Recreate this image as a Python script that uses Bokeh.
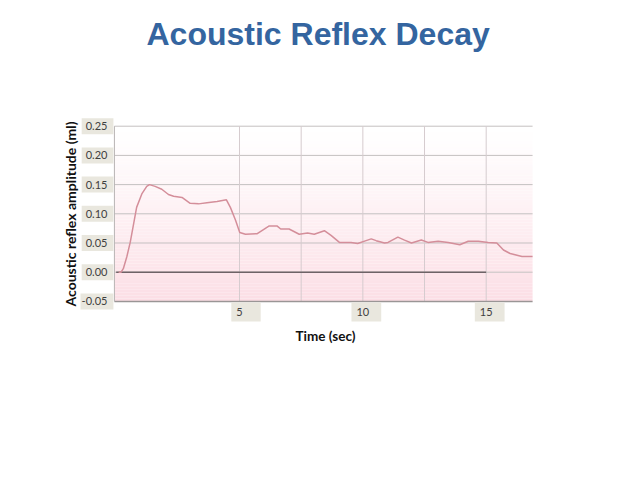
import numpy as np
from bokeh.plotting import figure
from bokeh.models import FixedTicker, Label, Range1d, Title
from bokeh.embed import file_html
from bokeh.resources import INLINE

# ---- data ----
time_s = [0.1, 0.2, 0.29, 0.43, 0.57, 0.71, 0.83, 1.04, 1.24, 1.35, 1.58, 1.85,
          2.12, 2.33, 2.67, 3.0, 3.34, 3.68, 4.09, 4.47, 4.63, 4.84, 5.01, 5.24,
          5.72, 6.19, 6.53, 6.67, 7.01, 7.42, 7.76, 8.03, 8.44, 8.71, 9.05, 9.52,
          9.79, 10.13, 10.34, 10.54, 10.88, 11.02, 11.42, 11.69, 11.97, 12.37,
          12.64, 13.05, 13.46, 13.93, 14.27, 14.68, 15.08, 15.43, 15.70, 15.97,
          16.45, 16.88]
amplitude = [0.0, 0.0, 0.006, 0.026, 0.051, 0.083, 0.111, 0.134, 0.147, 0.150,
             0.147, 0.142, 0.133, 0.130, 0.128, 0.118, 0.117, 0.119, 0.121, 0.124,
             0.111, 0.089, 0.068, 0.065, 0.066, 0.079, 0.079, 0.074, 0.074, 0.065,
             0.067, 0.065, 0.071, 0.063, 0.051, 0.051, 0.049, 0.054, 0.057, 0.054,
             0.050, 0.051, 0.060, 0.055, 0.050, 0.055, 0.051, 0.053, 0.051, 0.047,
             0.053, 0.053, 0.051, 0.050, 0.038, 0.032, 0.027, 0.027]
baseline_time = [0.0, 15.0]
baseline_amp = [0.0, 0.0]

y_ticks = [-0.05, 0.0, 0.05, 0.10, 0.15, 0.20, 0.25]
y_tick_labels = ["-0.05", "0.00", "0.05", "0.10", "0.15", "0.20", "0.25"]
x_ticks = [5, 10, 15]
x_tick_labels = ["5", "10", "15"]
x_grid = [5, 7.5, 10, 12.5, 15]

# visible chart area
X0, X1 = -0.07, 16.88
Y0, Y1 = -0.05, 0.25
# frame extent (room for the boxed tick labels)
FX0, FX1 = -1.445, 18.417
FY0, FY1 = -0.093, 0.2923

p = figure(width=620, height=460, output_backend="svg", toolbar_location=None,
           x_range=Range1d(FX0, FX1), y_range=Range1d(FY0, FY1),
           min_border=0, min_border_left=80, min_border_right=50,
           min_border_bottom=134, min_border_top=101)
p.outline_line_color = None
p.background_fill_color = "white"
p.border_fill_color = "white"
p.grid.visible = False
p.title.text = ""

# spacer (nearest the frame), then the title above it
p.add_layout(Title(text=" ", text_font_size="10px", standoff=21), "above")
p.add_layout(Title(text="Acoustic Reflex Decay", text_font="Liberation Sans",
                   text_font_style="bold", text_font_size="32px",
                   text_color="#3465a0", align="left", offset=66,
                   vertical_align="top", standoff=27), "above")

# background gradient (white at top -> pink at bottom)
n = 60
edges = np.linspace(Y0, Y1, n + 1)
mids = (edges[:-1] + edges[1:]) / 2
top_c = np.array([255, 255, 255])
bot_c = np.array([252, 222, 229])
cols = []
for m in mids:
    t = ((Y1 - m) / (Y1 - Y0)) ** 1.2
    c = top_c + (bot_c - top_c) * t
    cols.append("#%02x%02x%02x" % tuple(int(round(v)) for v in c))
p.quad(left=X0, right=X1, bottom=edges[:-1], top=edges[1:], fill_color=cols,
       line_color=None, level="image")

# grid lines (drawn within the chart area only)
p.segment(x0=X0, x1=X1, y0=y_ticks[1:], y1=y_ticks[1:], line_color="#c4c0c0",
          line_width=1)
p.segment(x0=x_grid, x1=x_grid, y0=Y0, y1=Y1, line_color="#d6cccf", line_width=1)
p.segment(x0=[X0], x1=[X0], y0=Y0, y1=Y1, line_color="#b8b4b4", line_width=1)
p.segment(x0=[X0], x1=[X1], y0=Y0, y1=Y0, line_color="#9a9696", line_width=1.5)

# axes: only their titles are shown
for ax in (p.xaxis, p.yaxis):
    ax.major_tick_line_color = None
    ax.minor_tick_line_color = None
    ax.major_tick_out = 0
    ax.major_label_standoff = 0
    ax.axis_line_color = None
    ax.axis_label_text_font = "Lato"
    ax.axis_label_text_font_style = "bold"
    ax.axis_label_text_color = "#111111"
p.yaxis.ticker = FixedTicker(ticks=y_ticks)
p.xaxis.ticker = FixedTicker(ticks=x_ticks)
p.yaxis.major_label_overrides = {v: "" for v in y_ticks}
p.xaxis.major_label_overrides = {v: "" for v in x_ticks}
p.yaxis.axis_label = "Acoustic reflex amplitude (ml)"
p.xaxis.axis_label = "Time (sec)"
p.yaxis.axis_label_text_font_size = "14px"
p.xaxis.axis_label_text_font_size = "13.5px"
p.yaxis.axis_label_standoff = 2
p.xaxis.axis_label_standoff = 1

# tick labels with boxed backgrounds
for v, s in zip(y_ticks, y_tick_labels):
    p.add_layout(Label(x=X0, y=v, text=s, text_align="right", text_baseline="middle",
                       x_offset=-1, text_font="Lato", text_font_size="11px",
                       text_color="#404040", background_fill_color="#e9e7de",
                       padding=dict(left=4, right=6, top=4, bottom=4)))
for v, s in zip(x_ticks, x_tick_labels):
    rpad = 24 - 6 * len(s)
    p.add_layout(Label(x=v, y=Y0, text=s, text_align="center", text_baseline="top",
                       x_offset=(rpad - 5) / 2, y_offset=-1, text_font="Lato",
                       text_font_size="11px", text_color="#404040",
                       background_fill_color="#e9e7de",
                       padding=dict(left=5, right=rpad, top=6, bottom=5)))

# baseline and curve
p.line(baseline_time, baseline_amp, line_color="#6e6266", line_width=1.6)
p.line(time_s, amplitude, line_color="#d48e9a", line_width=1.5)

open("out.html", "w").write(file_html(p, INLINE))
